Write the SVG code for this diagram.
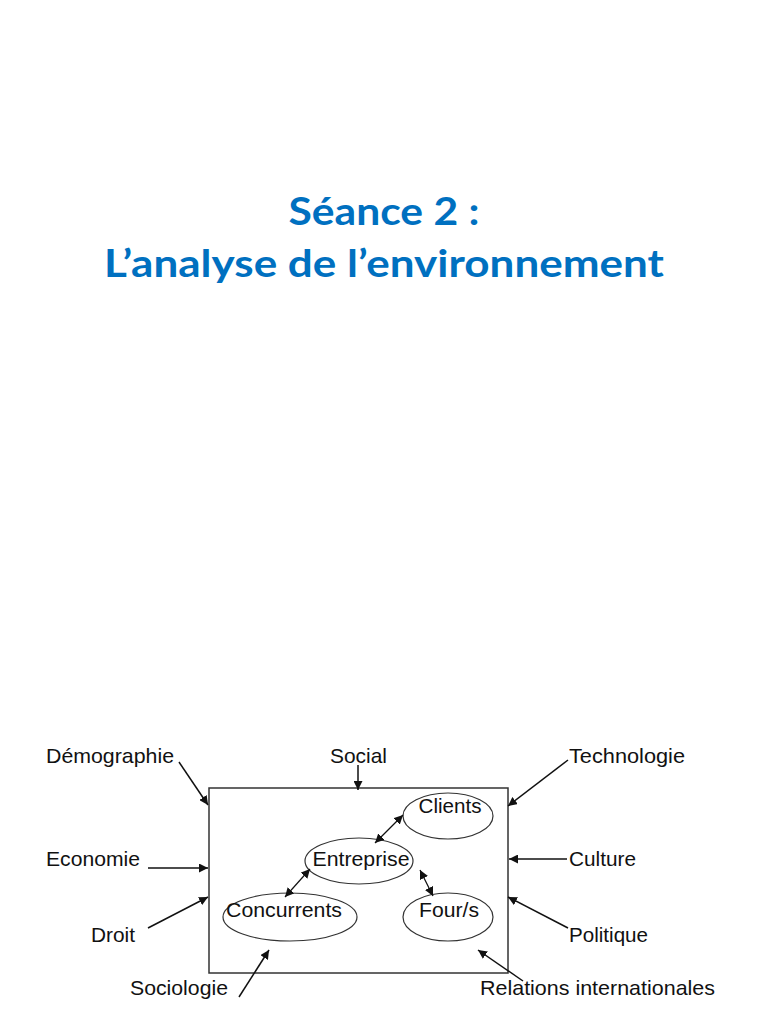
<svg xmlns="http://www.w3.org/2000/svg" width="768" height="1024" viewBox="0 0 768 1024">
<defs>
<marker id="ah" viewBox="0 0 10 10" refX="10" refY="5" markerWidth="9" markerHeight="9" markerUnits="userSpaceOnUse" orient="auto-start-reverse">
<path d="M0,0 L10,5 L0,10 z" fill="#111"/>
</marker>
<style>
.t{font-family:Lato,"Open Sans","Liberation Sans",sans-serif;font-weight:bold;font-size:38px;fill:#0070C0;text-anchor:middle}
.l{font-family:"Liberation Sans",Arial,sans-serif;font-size:21px;fill:#111}
.n{font-family:"Liberation Sans",Arial,sans-serif;font-size:21px;fill:#111;text-anchor:middle}
.e{fill:none;stroke:#333;stroke-width:1.2}
.c line{stroke:#111;stroke-width:1.5;marker-end:url(#ah)}
.c line.d{marker-start:url(#ah);stroke-width:1.2}
</style>
</defs>
<rect width="768" height="1024" fill="#fff"/>
<g id="title">
<text class="t" x="384" y="225" textLength="191" lengthAdjust="spacingAndGlyphs">Séance 2 :</text>
<text class="t" x="384" y="277" textLength="560" lengthAdjust="spacingAndGlyphs">L’analyse de l’environnement</text>
</g>
<g id="environnement">
<rect x="209" y="788" width="299" height="185" fill="none" stroke="#333" stroke-width="1.5"/>
</g>
<g id="clients"><ellipse class="e" cx="448" cy="816" rx="45" ry="23"/><text class="n" x="450" y="813" textLength="63" lengthAdjust="spacingAndGlyphs">Clients</text></g>
<g id="entreprise"><ellipse class="e" cx="359" cy="861" rx="54" ry="23"/><text class="n" x="361" y="866" textLength="97" lengthAdjust="spacingAndGlyphs">Entreprise</text></g>
<g id="concurrents"><ellipse class="e" cx="290" cy="917" rx="67" ry="24"/><text class="n" x="284" y="917" textLength="116" lengthAdjust="spacingAndGlyphs">Concurrents</text></g>
<g id="fours"><ellipse class="e" cx="448" cy="917" rx="45" ry="24"/><text class="n" x="449" y="917" textLength="60" lengthAdjust="spacingAndGlyphs">Four/s</text></g>
<g id="labels">
<text class="l" x="46" y="763" textLength="128" lengthAdjust="spacingAndGlyphs">Démographie</text>
<text class="l" x="330" y="763" textLength="57" lengthAdjust="spacingAndGlyphs">Social</text>
<text class="l" x="569" y="763" textLength="116" lengthAdjust="spacingAndGlyphs">Technologie</text>
<text class="l" x="46" y="866" textLength="94" lengthAdjust="spacingAndGlyphs">Economie</text>
<text class="l" x="569" y="866" textLength="67" lengthAdjust="spacingAndGlyphs">Culture</text>
<text class="l" x="91" y="942" textLength="44" lengthAdjust="spacingAndGlyphs">Droit</text>
<text class="l" x="569" y="942" textLength="79" lengthAdjust="spacingAndGlyphs">Politique</text>
<text class="l" x="130" y="995" textLength="98" lengthAdjust="spacingAndGlyphs">Sociologie</text>
<text class="l" x="480" y="995" textLength="235" lengthAdjust="spacingAndGlyphs">Relations internationales</text>
</g>
<g id="connectors" class="c">
<line x1="179" y1="762" x2="208" y2="805"/>
<line x1="358" y1="765" x2="358" y2="790"/>
<line x1="568" y1="760" x2="508" y2="806"/>
<line x1="148" y1="868" x2="208" y2="868"/>
<line x1="567" y1="859" x2="509" y2="859"/>
<line x1="148" y1="928" x2="208" y2="897"/>
<line x1="568" y1="928" x2="508" y2="897"/>
<line x1="239" y1="997" x2="269" y2="950"/>
<line x1="523" y1="981" x2="478" y2="950"/>
<line class="d" x1="375" y1="843" x2="403" y2="815"/>
<line class="d" x1="310" y1="869" x2="285" y2="897"/>
<line class="d" x1="420" y1="870" x2="433" y2="896"/>
</g>
</svg>
